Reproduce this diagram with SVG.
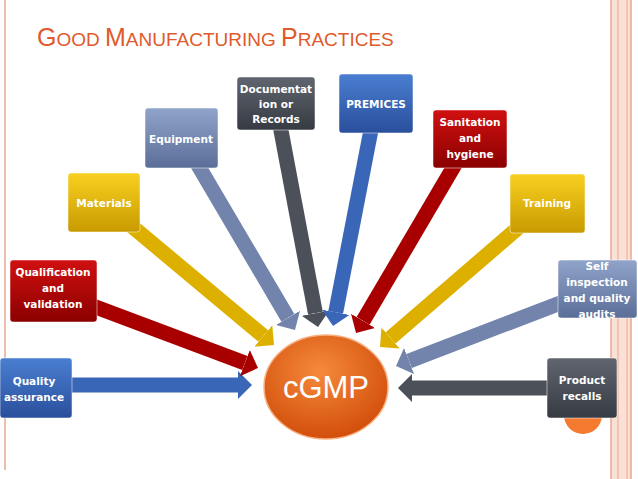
<svg xmlns="http://www.w3.org/2000/svg" width="638" height="479" viewBox="0 0 638 479">
<style>
.t{font-family:"DejaVu Sans",sans-serif;font-size:10.5px;font-weight:bold;fill:#fff;text-anchor:middle}
.box{stroke:#fff;stroke-opacity:.5;stroke-width:1}
.c{fill:none;stroke-width:15}
</style>
<defs>
<linearGradient id="gb" x1="0" y1="0" x2="0" y2="1"><stop offset="0" stop-color="#4A7ED0"/><stop offset="1" stop-color="#2A4F9C"/></linearGradient>
<linearGradient id="gr" x1="0" y1="0" x2="0" y2="1"><stop offset="0" stop-color="#D01010"/><stop offset="1" stop-color="#8A0000"/></linearGradient>
<linearGradient id="gy" x1="0" y1="0" x2="0" y2="1"><stop offset="0" stop-color="#F8D020"/><stop offset="1" stop-color="#C89A00"/></linearGradient>
<linearGradient id="gs" x1="0" y1="0" x2="0" y2="1"><stop offset="0" stop-color="#90A4CA"/><stop offset="1" stop-color="#5A6E98"/></linearGradient>
<linearGradient id="gd" x1="0" y1="0" x2="0" y2="1"><stop offset="0" stop-color="#60656F"/><stop offset="1" stop-color="#363A42"/></linearGradient>
<radialGradient id="go" cx="0.45" cy="0.35" r="0.7"><stop offset="0" stop-color="#F58A3A"/><stop offset="1" stop-color="#D04A08"/></radialGradient>
<marker id="mb" viewBox="0 0 14 28" markerWidth="14" markerHeight="28" refX="0" refY="14" orient="auto" markerUnits="userSpaceOnUse"><path d="M0,0L14,14L0,28Z" fill="#3A66B8"/></marker>
<marker id="mr" viewBox="0 0 14 28" markerWidth="14" markerHeight="28" refX="0" refY="14" orient="auto" markerUnits="userSpaceOnUse"><path d="M0,0L14,14L0,28Z" fill="#A80000"/></marker>
<marker id="my" viewBox="0 0 14 28" markerWidth="14" markerHeight="28" refX="0" refY="14" orient="auto" markerUnits="userSpaceOnUse"><path d="M0,0L14,14L0,28Z" fill="#DDB000"/></marker>
<marker id="ms" viewBox="0 0 14 28" markerWidth="14" markerHeight="28" refX="0" refY="14" orient="auto" markerUnits="userSpaceOnUse"><path d="M0,0L14,14L0,28Z" fill="#7284AC"/></marker>
<marker id="md" viewBox="0 0 14 28" markerWidth="14" markerHeight="28" refX="0" refY="14" orient="auto" markerUnits="userSpaceOnUse"><path d="M0,0L14,14L0,28Z" fill="#4C5059"/></marker>
</defs>
<rect width="638" height="479" fill="#fff"/>
<line x1="5" y1="0" x2="5" y2="470" stroke="#E8A890" stroke-width="1.5"/>
<rect x="611" y="0" width="20" height="479" fill="#FBE0D6"/>
<line x1="611" y1="0" x2="611" y2="479" stroke="#E8A890" stroke-width="1.5"/>
<line x1="618" y1="0" x2="618" y2="479" stroke="#E8A890" stroke-width="1"/>
<line x1="627" y1="0" x2="627" y2="479" stroke="#E8A890" stroke-width="1"/>
<line x1="631" y1="0" x2="631" y2="479" stroke="#E8A890" stroke-width="1.5"/>
<text x="37" y="46" font-family="Liberation Sans,sans-serif" fill="#E05A2B" font-size="25">G<tspan font-size="19">OOD </tspan>M<tspan font-size="19">ANUFACTURING </tspan>P<tspan font-size="19">RACTICES</tspan></text>
<circle cx="583" cy="415" r="19" fill="#F47A30"/>
<g id="connectors">
<line class="c" x1="36" y1="385" x2="238" y2="385" stroke="#3A66B8" marker-end="url(#mb)"/>
<line class="c" x1="53" y1="291" x2="244.9" y2="363.1" stroke="#A80000" marker-end="url(#mr)"/>
<line class="c" x1="104" y1="203" x2="263.3" y2="336" stroke="#DDB000" marker-end="url(#my)"/>
<line class="c" x1="182" y1="138" x2="287.9" y2="317.9" stroke="#7284AC" marker-end="url(#ms)"/>
<line class="c" x1="276" y1="104" x2="315.4" y2="313.2" stroke="#4C5059" marker-end="url(#md)"/>
<line class="c" x1="376" y1="104" x2="335.7" y2="312.3" stroke="#3A66B8" marker-end="url(#mb)"/>
<line class="c" x1="470" y1="139" x2="363.1" y2="320.9" stroke="#A80000" marker-end="url(#mr)"/>
<line class="c" x1="547" y1="203" x2="390.6" y2="337.9" stroke="#DDB000" marker-end="url(#my)"/>
<line class="c" x1="597" y1="289" x2="409.1" y2="361" stroke="#7284AC" marker-end="url(#ms)"/>
<line class="c" x1="582" y1="388" x2="412" y2="388" stroke="#4C5059" marker-end="url(#md)"/>
</g>
<g id="cgmp"><ellipse cx="326" cy="387" rx="62" ry="52" fill="url(#go)" stroke="#F8B080" stroke-width="1.5"/><text x="326" y="398" font-family="Liberation Sans,sans-serif" font-size="31" fill="#fff" text-anchor="middle">cGMP</text></g>
<g id="qa"><rect class="box" x="0" y="358" width="72" height="60" rx="3" fill="url(#gb)"/><text class="t" x="34" y="385">Quality</text><text class="t" x="34" y="401">assurance</text></g>
<g id="qv"><rect class="box" x="10" y="260" width="87" height="62" rx="3" fill="url(#gr)"/><text class="t" x="53" y="276">Qualification</text><text class="t" x="53" y="292">and</text><text class="t" x="53" y="308">validation</text></g>
<g id="materials"><rect class="box" x="68" y="173" width="72" height="59" rx="3" fill="url(#gy)"/><text class="t" x="104" y="207">Materials</text></g>
<g id="equipment"><rect class="box" x="145" y="108" width="73" height="60" rx="3" fill="url(#gs)"/><text class="t" x="181" y="143">Equipment</text></g>
<g id="doc"><rect class="box" x="237" y="77" width="78" height="53" rx="3" fill="url(#gd)"/><text class="t" x="276" y="93">Documentat</text><text class="t" x="276" y="108">ion or</text><text class="t" x="276" y="123">Records</text></g>
<g id="premices"><rect class="box" x="339" y="74" width="74" height="59" rx="3" fill="url(#gb)"/><text class="t" x="376" y="108">PREMICES</text></g>
<g id="sanitation"><rect class="box" x="433" y="110" width="74" height="58" rx="3" fill="url(#gr)"/><text class="t" x="470" y="126">Sanitation</text><text class="t" x="470" y="142">and</text><text class="t" x="470" y="158">hygiene</text></g>
<g id="training"><rect class="box" x="510" y="174" width="75" height="59" rx="3" fill="url(#gy)"/><text class="t" x="547" y="207">Training</text></g>
<g id="self"><rect class="box" x="558" y="260" width="79" height="58" rx="3" fill="url(#gs)"/><text class="t" x="597" y="270">Self</text><text class="t" x="597" y="286">inspection</text><text class="t" x="597" y="302">and quality</text><text class="t" x="597" y="318">audits</text></g>
<g id="recalls"><rect class="box" x="547" y="358" width="70" height="60" rx="3" fill="url(#gd)"/><text class="t" x="582" y="384">Product</text><text class="t" x="582" y="400">recalls</text></g>
</svg>
